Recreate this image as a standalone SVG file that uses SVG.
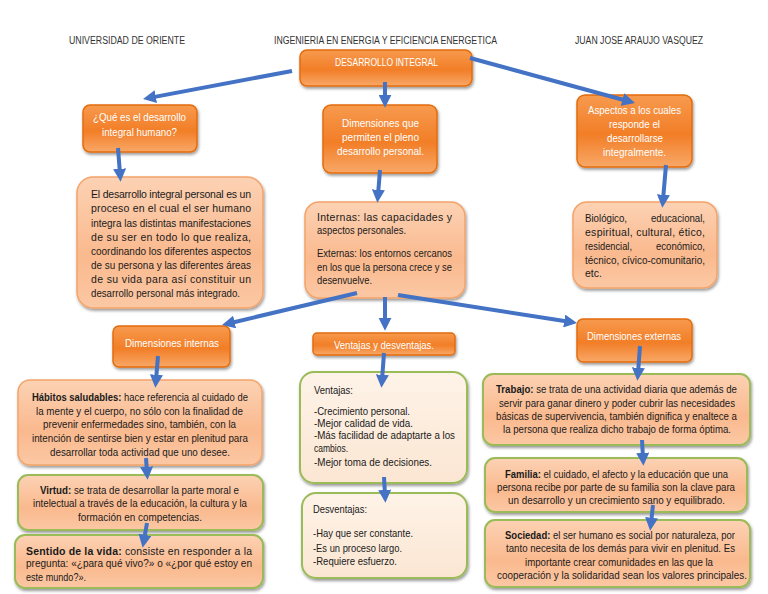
<svg xmlns="http://www.w3.org/2000/svg" width="768" height="594" viewBox="0 0 768 594">
<defs>
<linearGradient id="gO" x1="0" y1="0" x2="0" y2="1"><stop offset="0" stop-color="#F79A4E"/><stop offset="0.55" stop-color="#F27E27"/><stop offset="1" stop-color="#F8A868"/></linearGradient>
<linearGradient id="gP" x1="0" y1="0" x2="0" y2="1"><stop offset="0" stop-color="#FCD2B4"/><stop offset="0.6" stop-color="#FAB98E"/><stop offset="1" stop-color="#FBC8A4"/></linearGradient>
<linearGradient id="gC" x1="0" y1="0" x2="0" y2="1"><stop offset="0" stop-color="#FEF3E8"/><stop offset="1" stop-color="#FBE6D2"/></linearGradient>
<filter id="sh" x="-10%" y="-10%" width="120%" height="130%"><feDropShadow dx="1" dy="2" stdDeviation="1.5" flood-color="#000" flood-opacity="0.4"/></filter>
<marker id="ah" viewBox="0 0 10 10" refX="4" refY="5" markerWidth="13" markerHeight="13" markerUnits="userSpaceOnUse" orient="auto"><path d="M0,0 L10,5 L0,10 z" fill="#4472C4"/></marker>
</defs>
<style>
text{font-family:"Liberation Sans",Arial,sans-serif;font-size:10.5px;fill:#1a1a1a}
.h{font-size:10px;fill:#333}
.w{fill:#fff}
.o{fill:url(#gO);stroke:#E46C0A;stroke-width:1.5;filter:url(#sh)}
.p{fill:url(#gP);stroke:#F4A46A;stroke-width:1.5;filter:url(#sh)}
.g{fill:url(#gP);stroke:#9BBB59;stroke-width:2;filter:url(#sh)}
.c{fill:url(#gC);stroke:#9BBB59;stroke-width:2;filter:url(#sh)}
.b{font-weight:bold}
#conn line{stroke:#4472C4;stroke-width:4;marker-end:url(#ah)}
</style>
<rect width="768" height="594" fill="#fff"/>
<g id="header">
<text class="h" x="69" y="44" textLength="116" lengthAdjust="spacingAndGlyphs">UNIVERSIDAD DE ORIENTE</text>
<text class="h" x="274" y="44" textLength="223" lengthAdjust="spacingAndGlyphs">INGENIERIA EN ENERGIA Y EFICIENCIA ENERGETICA</text>
<text class="h" x="575" y="44" textLength="128" lengthAdjust="spacingAndGlyphs">JUAN JOSE ARAUJO VASQUEZ</text>
</g>
<g id="n-desarrollo">
<rect class="o" x="300" y="50" width="172" height="36" rx="7"/>
<text class="w" x="335" y="66" textLength="103" lengthAdjust="spacingAndGlyphs">DESARROLLO INTEGRAL</text>
</g>
<g id="n-que">
<rect class="o" x="83" y="105" width="114" height="47" rx="7"/>
<text class="w" x="93" y="121" textLength="93" lengthAdjust="spacingAndGlyphs">¿Qué es el desarrollo</text>
<text class="w" x="102" y="136" textLength="75" lengthAdjust="spacingAndGlyphs">integral humano?</text>
</g>
<g id="n-def">
<rect class="p" x="77" y="177" width="186" height="131" rx="16"/>
<text x="91" y="198" textLength="160" lengthAdjust="spacing">El desarrollo integral personal es un</text>
<text x="91" y="212" textLength="160" lengthAdjust="spacing">proceso en el cual el ser humano</text>
<text x="91" y="227" textLength="160" lengthAdjust="spacingAndGlyphs">integra las distintas manifestaciones</text>
<text x="91" y="241" textLength="160" lengthAdjust="spacing">de su ser en todo lo que realiza,</text>
<text x="91" y="255" textLength="160" lengthAdjust="spacingAndGlyphs">coordinando los diferentes aspectos</text>
<text x="91" y="269" textLength="160" lengthAdjust="spacingAndGlyphs">de su persona y las diferentes áreas</text>
<text x="91" y="283" textLength="160" lengthAdjust="spacing">de su vida para así constituir un</text>
<text x="91" y="297" textLength="149" lengthAdjust="spacingAndGlyphs">desarrollo personal más integrado.</text>
</g>
<g id="n-dim">
<rect class="o" x="323" y="105" width="114" height="68" rx="8"/>
<text class="w" x="342" y="127" textLength="77" lengthAdjust="spacingAndGlyphs">Dimensiones que</text>
<text class="w" x="342" y="141" textLength="77" lengthAdjust="spacingAndGlyphs">permiten el pleno</text>
<text class="w" x="337" y="155" textLength="87" lengthAdjust="spacingAndGlyphs">desarrollo personal.</text>
</g>
<g id="n-intext">
<rect class="p" x="305" y="202" width="160" height="96" rx="14"/>
<text x="317" y="221" textLength="135" lengthAdjust="spacing">Internas: las capacidades y</text>
<text x="317" y="234" textLength="89" lengthAdjust="spacingAndGlyphs">aspectos personales.</text>
<text x="317" y="257" textLength="135" lengthAdjust="spacingAndGlyphs">Externas: los entornos cercanos</text>
<text x="317" y="271" textLength="135" lengthAdjust="spacingAndGlyphs">en los que la persona crece y se</text>
<text x="317" y="284" textLength="55" lengthAdjust="spacingAndGlyphs">desenvuelve.</text>
</g>
<g id="n-aspectos">
<rect class="o" x="577" y="95" width="115" height="72" rx="8"/>
<text class="w" x="588" y="114" textLength="93" lengthAdjust="spacingAndGlyphs">Aspectos a los cuales</text>
<text class="w" x="609" y="128" textLength="51" lengthAdjust="spacingAndGlyphs">responde el</text>
<text class="w" x="607" y="142" textLength="56" lengthAdjust="spacingAndGlyphs">desarrollarse</text>
<text class="w" x="603" y="156" textLength="63" lengthAdjust="spacingAndGlyphs">integralmente.</text>
</g>
<g id="n-bio">
<rect class="p" x="573" y="202" width="144" height="86" rx="14"/>
<text x="585" y="222" textLength="42" lengthAdjust="spacingAndGlyphs">Biológico,</text>
<text x="651" y="222" textLength="54" lengthAdjust="spacingAndGlyphs">educacional,</text>
<text x="585" y="236" textLength="120" lengthAdjust="spacing">espiritual, cultural, ético,</text>
<text x="585" y="250" textLength="47" lengthAdjust="spacingAndGlyphs">residencial,</text>
<text x="656" y="250" textLength="49" lengthAdjust="spacingAndGlyphs">económico,</text>
<text x="585" y="264" textLength="120" lengthAdjust="spacingAndGlyphs">técnico, cívico-comunitario,</text>
<text x="585" y="277">etc.</text>
</g>
<g id="n-dimint">
<rect class="o" x="113" y="326" width="117" height="41" rx="6"/>
<text class="w" x="125" y="347" textLength="94" lengthAdjust="spacingAndGlyphs">Dimensiones internas</text>
</g>
<g id="n-ventdesv">
<rect class="o" x="313" y="333" width="142" height="22" rx="4"/>
<text class="w" x="334" y="349" textLength="100" lengthAdjust="spacingAndGlyphs">Ventajas y desventajas.</text>
</g>
<g id="n-dimext">
<rect class="o" x="577" y="319" width="115" height="43" rx="6"/>
<text class="w" x="587" y="340" textLength="94" lengthAdjust="spacingAndGlyphs">Dimensiones externas</text>
</g>
<g id="n-habitos">
<rect class="p" x="18" y="380" width="244" height="85" rx="12"/>
<text x="32" y="401" textLength="216" lengthAdjust="spacingAndGlyphs"><tspan class="b">Hábitos saludables:</tspan> hace referencia al cuidado de</text>
<text x="36" y="415" textLength="207" lengthAdjust="spacingAndGlyphs">la mente y el cuerpo, no sólo con la finalidad de</text>
<text x="43" y="428" textLength="193" lengthAdjust="spacingAndGlyphs">prevenir enfermedades sino, también, con la</text>
<text x="32" y="442" textLength="216" lengthAdjust="spacingAndGlyphs">intención de sentirse bien y estar en plenitud para</text>
<text x="50" y="456" textLength="180" lengthAdjust="spacingAndGlyphs">desarrollar toda actividad que uno desee.</text>
</g>
<g id="n-virtud">
<rect class="g" x="18" y="475" width="245" height="55" rx="10"/>
<text x="40" y="494" textLength="199" lengthAdjust="spacingAndGlyphs"><tspan class="b">Virtud:</tspan> se trata de desarrollar la parte moral e</text>
<text x="33" y="507" textLength="214" lengthAdjust="spacingAndGlyphs">intelectual a través de la educación, la cultura y la</text>
<text x="78" y="521" textLength="124" lengthAdjust="spacingAndGlyphs">formación en competencias.</text>
</g>
<g id="n-sentido">
<rect class="g" x="15" y="535" width="248" height="53" rx="10"/>
<text x="26" y="555" textLength="226" lengthAdjust="spacing"><tspan class="b">Sentido de la vida:</tspan> consiste en responder a la</text>
<text x="26" y="567" textLength="226" lengthAdjust="spacingAndGlyphs">pregunta: «¿para qué vivo?» o «¿por qué estoy en</text>
<text x="26" y="581" textLength="60" lengthAdjust="spacingAndGlyphs">este mundo?».</text>
</g>
<g id="n-ventajas">
<rect class="c" x="300" y="372" width="167" height="111" rx="14"/>
<text x="314" y="394" textLength="39" lengthAdjust="spacingAndGlyphs">Ventajas:</text>
<text x="314" y="415" textLength="96" lengthAdjust="spacingAndGlyphs">-Crecimiento personal.</text>
<text x="314" y="427" textLength="99" lengthAdjust="spacingAndGlyphs">-Mejor calidad de vida.</text>
<text x="314" y="439" textLength="141" lengthAdjust="spacingAndGlyphs">-Más facilidad de adaptarte a los</text>
<text x="314" y="452" textLength="34" lengthAdjust="spacingAndGlyphs">cambios.</text>
<text x="314" y="466" textLength="118" lengthAdjust="spacingAndGlyphs">-Mejor toma de decisiones.</text>
</g>
<g id="n-desventajas">
<rect class="c" x="302" y="493" width="165" height="85" rx="14"/>
<text x="313" y="513" textLength="54" lengthAdjust="spacingAndGlyphs">Desventajas:</text>
<text x="313" y="537" textLength="100" lengthAdjust="spacingAndGlyphs">-Hay que ser constante.</text>
<text x="313" y="552" textLength="89" lengthAdjust="spacingAndGlyphs">-Es un proceso largo.</text>
<text x="313" y="565" textLength="84" lengthAdjust="spacingAndGlyphs">-Requiere esfuerzo.</text>
</g>
<g id="n-trabajo">
<rect class="g" x="483" y="374" width="267" height="71" rx="10"/>
<text x="496" y="393" textLength="241" lengthAdjust="spacingAndGlyphs"><tspan class="b">Trabajo:</tspan> se trata de una actividad diaria que además de</text>
<text x="499" y="407" textLength="236" lengthAdjust="spacingAndGlyphs">servir para ganar dinero y poder cubrir las necesidades</text>
<text x="496" y="420" textLength="241" lengthAdjust="spacingAndGlyphs">básicas de supervivencia, también dignifica y enaltece a</text>
<text x="503" y="433" textLength="228" lengthAdjust="spacingAndGlyphs">la persona que realiza dicho trabajo de forma óptima.</text>
</g>
<g id="n-familia">
<rect class="g" x="485" y="458" width="262" height="54" rx="10"/>
<text x="505" y="478" textLength="223" lengthAdjust="spacingAndGlyphs"><tspan class="b">Familia:</tspan> el cuidado, el afecto y la educación que una</text>
<text x="497" y="491" textLength="238" lengthAdjust="spacingAndGlyphs">persona recibe por parte de su familia son la clave para</text>
<text x="508" y="504" textLength="217" lengthAdjust="spacingAndGlyphs">un desarrollo y un crecimiento sano y equilibrado.</text>
</g>
<g id="n-sociedad">
<rect class="g" x="485" y="520" width="265" height="67" rx="10"/>
<text x="505" y="539" textLength="230" lengthAdjust="spacingAndGlyphs"><tspan class="b">Sociedad:</tspan> el ser humano es social por naturaleza, por</text>
<text x="506" y="552" textLength="229" lengthAdjust="spacingAndGlyphs">tanto necesita de los demás para vivir en plenitud. Es</text>
<text x="525" y="566" textLength="188" lengthAdjust="spacingAndGlyphs">importante crear comunidades en las que la</text>
<text x="497" y="579" textLength="250" lengthAdjust="spacingAndGlyphs">cooperación y la solidaridad sean los valores principales.</text>
</g>
<g id="conn">
<line x1="292" y1="71" x2="150.7" y2="97.6"/>
<line x1="385" y1="82" x2="385" y2="100"/>
<line x1="470" y1="58" x2="627.5" y2="101"/>
<line x1="118" y1="148" x2="120" y2="174"/>
<line x1="380" y1="170" x2="378" y2="195"/>
<line x1="666" y1="165" x2="663" y2="200"/>
<line x1="357" y1="293" x2="229.6" y2="323.2"/>
<line x1="385" y1="297" x2="385" y2="323"/>
<line x1="398" y1="295" x2="569.3" y2="321.8"/>
<line x1="158" y1="356" x2="156" y2="380"/>
<line x1="146" y1="458" x2="147" y2="472"/>
<line x1="147" y1="523" x2="144" y2="540"/>
<line x1="384" y1="477" x2="385" y2="495"/>
<line x1="384" y1="353" x2="382" y2="380"/>
<line x1="640" y1="346" x2="638" y2="373"/>
<line x1="642" y1="440" x2="643" y2="458"/>
<line x1="653" y1="505" x2="651" y2="523"/>
</g>
</svg>
